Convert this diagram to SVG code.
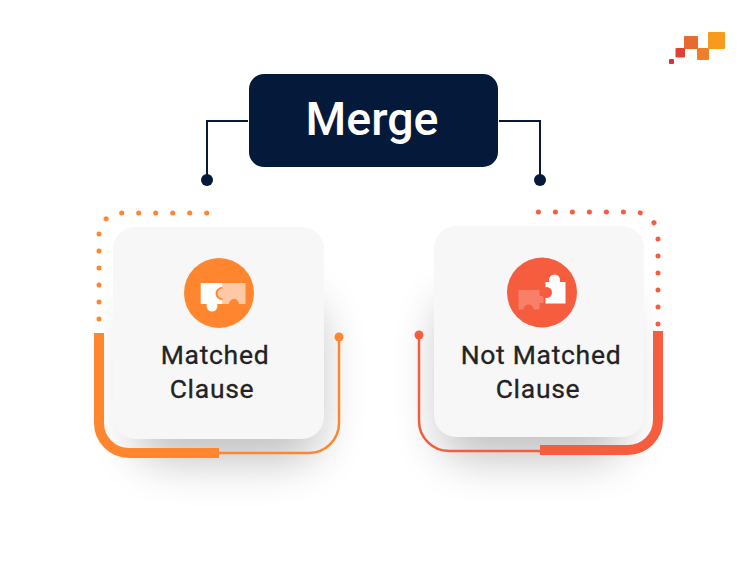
<svg xmlns="http://www.w3.org/2000/svg" width="746" height="565" viewBox="0 0 746 565">
<defs>
<style>
.lbl{font-family:"Roboto","Liberation Sans",sans-serif;font-size:26.500px;font-weight:400;fill:#232323;stroke:#232323;stroke-width:.3px;text-anchor:middle;letter-spacing:.7px}
.card{fill:#f7f7f7}
.shadow{fill:#000;opacity:.25;filter:url(#blur)}
.nav{fill:none;stroke:#05193a;stroke-width:2}
.navdot{fill:#05193a}
.or{stroke:#ff862e;fill:none}
.re{stroke:#f55d3e;fill:none}
.dots{stroke-width:5;stroke-linecap:round;stroke-dasharray:.1 16.900}
</style>
<filter id="blur" x="-50%" y="-50%" width="200%" height="200%"><feGaussianBlur stdDeviation="23"/></filter>
</defs>
<rect width="746" height="565" fill="#fff"/>
<g id="shadows">
<rect class="shadow" x="135" y="300" width="185" height="160" rx="30"/>
<rect class="shadow" x="440" y="298" width="185" height="160" rx="30"/>
</g>
<g id="logo">
<rect x="669" y="59" width="5" height="5" rx="1" fill="#de3035"/>
<rect x="675.500" y="48" width="9.500" height="9.500" rx="1" fill="#e03f33"/>
<rect x="684" y="36" width="14" height="13" rx="1" fill="#e96a2f"/>
<rect x="697" y="48" width="12" height="12" rx="1" fill="#ee7f2a"/>
<rect x="708" y="32" width="17" height="17" rx="1" fill="#f89a1d"/>
</g>
<g id="connectors">
<path class="nav" d="M248 121H207V180M499 121H540V180"/>
<circle class="navdot" cx="207" cy="180" r="6"/>
<circle class="navdot" cx="540" cy="180" r="6"/>
<path class="or dots" d="M99 319V235A22 22 0 0 1 121 213H208"/>
<path class="re dots" d="M658 324V236A24 24 0 0 0 634 212H536"/>
<path class="or" stroke-width="2.500" d="M219 453H309A30 30 0 0 0 339 423V337"/>
<circle cx="339" cy="337" r="4.500" fill="#ff862e"/>
<path class="re" stroke-width="2.500" d="M540 451H449A30 30 0 0 1 419 421V335"/>
<circle cx="419" cy="335" r="4.500" fill="#f55d3e"/>
</g>
<g id="merge">
<rect x="249" y="74" width="249" height="93" rx="15" fill="#05193a"/>
<text x="372" y="135" text-anchor="middle" font-family="Roboto,'Liberation Sans',sans-serif" font-size="46.500" font-weight="500" fill="#fff">Merge</text>
</g>
<g id="matched">
<rect class="card" x="113" y="227" width="211" height="212" rx="22"/>
<path class="or" stroke-width="10" d="M99 333V423A30 30 0 0 0 129 453H219"/>
<circle cx="219" cy="293" r="35" fill="#ff862e"/>
<rect x="200.700" y="283" width="22" height="21" fill="#fff"/>
<circle cx="212" cy="306" r="5.500" fill="#fff"/>
<circle cx="222" cy="293.500" r="6.500" fill="#ff862e"/>
<path fill="#ffc9a6" d="M222.500 283H245.500V304H239A5 5 0 0 0 229 304H222.500V298.500A5 5 0 0 1 222.500 288.500Z"/>
<text class="lbl" x="215" y="364">Matched</text>
<text class="lbl" x="212" y="398">Clause</text>
</g>
<g id="not-matched">
<rect class="card" x="434" y="226" width="210" height="211" rx="22"/>
<path class="re" stroke-width="10" d="M658 331V420A30 30 0 0 1 628 450H540"/>
<circle cx="542" cy="292.500" r="35" fill="#f55d3e"/>
<path fill="#f97f69" d="M518.500 290H539.500V296H543.500V303H539.500V309.500H533.500A5 5 0 0 0 523.500 309.500H518.500Z"/>
<rect x="545.500" y="282" width="20" height="21.500" fill="#fff"/>
<circle cx="554.500" cy="280" r="5.500" fill="#fff"/>
<circle cx="546.500" cy="292.500" r="5.500" fill="#f55d3e"/>
<text class="lbl" x="541" y="364">Not Matched</text>
<text class="lbl" x="538" y="398">Clause</text>
</g>
</svg>
